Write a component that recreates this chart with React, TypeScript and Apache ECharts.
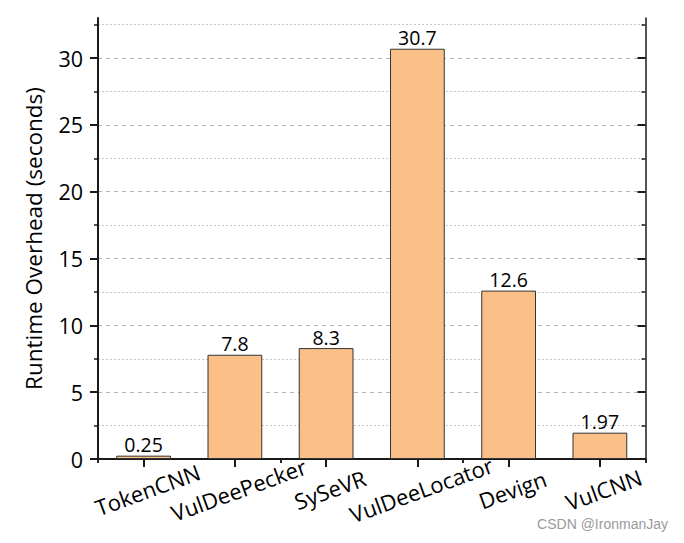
import React, { useEffect, useRef } from "react";
import * as echarts from "echarts";

const categories = ["TokenCNN", "VulDeePecker", "SySeVR", "VulDeeLocator", "Devign", "VulCNN"];
const runtimeValues = [0.25, 7.8, 8.3, 30.7, 12.6, 1.97];
const majorTicks = [0, 5, 10, 15, 20, 25, 30];
const minorTicks = [2.5, 7.5, 12.5, 17.5, 22.5, 27.5, 32.5];
const yMin = 0;
const yMax = 33;
const yTitle = "Runtime Overhead (seconds)";
const watermark = "CSDN @IronmanJay";

const FONT = "Open Sans";
const LINE = "#1a1a1a";

export default function App() {
  const ref = useRef<HTMLDivElement>(null);
  useEffect(() => {
    if (!ref.current) return;
    const chart = echarts.init(ref.current, null, { renderer: "svg" });
    const gridRect = { left: 98, right: 38.5, top: 18, bottom: 84, outerBoundsMode: "none" } as any;
    const noLabel = { show: false };
    const option: any = {
      animation: false,
      backgroundColor: "#fff",
      grid: [gridRect, { ...gridRect }],
      xAxis: [
        {
          gridIndex: 0,
          type: "category",
          position: "bottom",
          data: categories,
          axisLine: { show: true, lineStyle: { color: LINE, width: 2 } },
          axisTick: { show: true, alignWithLabel: true, inside: false, length: 8, lineStyle: { color: LINE, width: 2 } },
          axisLabel: {
            show: true,
            rotate: 20,
            align: "center",
            verticalAlign: "top",
            margin: 20,
            fontSize: 22,
            fontFamily: FONT,
            color: "#000",
            interval: 0,
          },
          splitLine: { show: false },
        },
        {
          gridIndex: 0,
          type: "category",
          position: "top",
          data: categories,
          axisLine: { show: true, lineStyle: { color: LINE, width: 1.5 } },
          axisTick: { show: true, alignWithLabel: true, inside: true, length: 8, lineStyle: { color: LINE, width: 2 } },
          axisLabel: noLabel,
          splitLine: { show: false },
        },
        {
          gridIndex: 1,
          type: "category",
          position: "bottom",
          data: categories,
          axisLine: { show: false },
          axisTick: { show: true, alignWithLabel: false, inside: false, length: 4, lineStyle: { color: LINE, width: 1.5 } },
          axisLabel: noLabel,
          splitLine: { show: false },
        },
        {
          gridIndex: 1,
          type: "category",
          position: "top",
          data: categories,
          axisLine: { show: false },
          axisTick: { show: true, alignWithLabel: false, inside: true, length: 4, lineStyle: { color: LINE, width: 1.5 } },
          axisLabel: noLabel,
          splitLine: { show: false },
        },
      ],
      yAxis: [
        {
          gridIndex: 0,
          type: "value",
          position: "left",
          min: yMin,
          max: yMax,
          interval: 5,
          name: yTitle,
          nameLocation: "middle",
          nameGap: 53,
          nameTextStyle: { fontSize: 22.5, fontFamily: FONT, color: "#000" },
          axisLine: { show: true, lineStyle: { color: LINE, width: 2 } },
          axisTick: { show: true, inside: false, length: 8, lineStyle: { color: LINE, width: 2 }, customValues: majorTicks },
          axisLabel: { show: true, fontSize: 21.5, fontFamily: FONT, color: "#000", margin: 15, customValues: majorTicks },
          splitLine: { show: true, lineStyle: { color: "#b4b4b4", type: [4, 4], width: 1 } },
        },
        {
          gridIndex: 0,
          type: "value",
          position: "right",
          min: yMin,
          max: yMax,
          interval: 5,
          axisLine: { show: true, lineStyle: { color: LINE, width: 1.5 } },
          axisTick: { show: true, inside: true, length: 8, lineStyle: { color: LINE, width: 2 }, customValues: majorTicks },
          axisLabel: { show: false, customValues: majorTicks },
          splitLine: { show: false },
        },
        {
          gridIndex: 1,
          type: "value",
          position: "left",
          min: yMin,
          max: yMax,
          interval: 2.5,
          axisLine: { show: false },
          axisTick: { show: true, inside: false, length: 4, lineStyle: { color: LINE, width: 1.5 }, customValues: minorTicks },
          axisLabel: { show: false, customValues: minorTicks },
          splitLine: { show: true, lineStyle: { color: "#c8c8c8", type: [2, 2], width: 1 } },
        },
        {
          gridIndex: 1,
          type: "value",
          position: "right",
          min: yMin,
          max: yMax,
          interval: 2.5,
          axisLine: { show: false },
          axisTick: { show: true, inside: true, length: 4, lineStyle: { color: LINE, width: 1.5 }, customValues: minorTicks },
          axisLabel: { show: false, customValues: minorTicks },
          splitLine: { show: false },
        },
      ],
      series: [
        {
          type: "bar",
          xAxisIndex: 0,
          yAxisIndex: 0,
          data: runtimeValues,
          barWidth: "60%",
          itemStyle: { color: "#fac088", borderColor: "#333", borderWidth: 1 },
          label: {
            show: true,
            position: "top",
            distance: 1,
            fontSize: 19.5,
            fontFamily: FONT,
            color: "#000",
          },
          z: 5,
        },
      ],
      graphic: [
        {
          type: "text",
          right: 16,
          top: 517,
          style: {
            text: watermark,
            fontSize: 14,
            fontFamily: "Liberation Sans",
            fill: "#9a9a9a",
          },
        },
      ],
    };
    chart.setOption(option);
    return () => chart.dispose();
  }, []);
  return (
    <div
      ref={ref}
      style={{ position: "absolute", left: 0, top: 0, width: 684, height: 543 }}
    />
  );
}
